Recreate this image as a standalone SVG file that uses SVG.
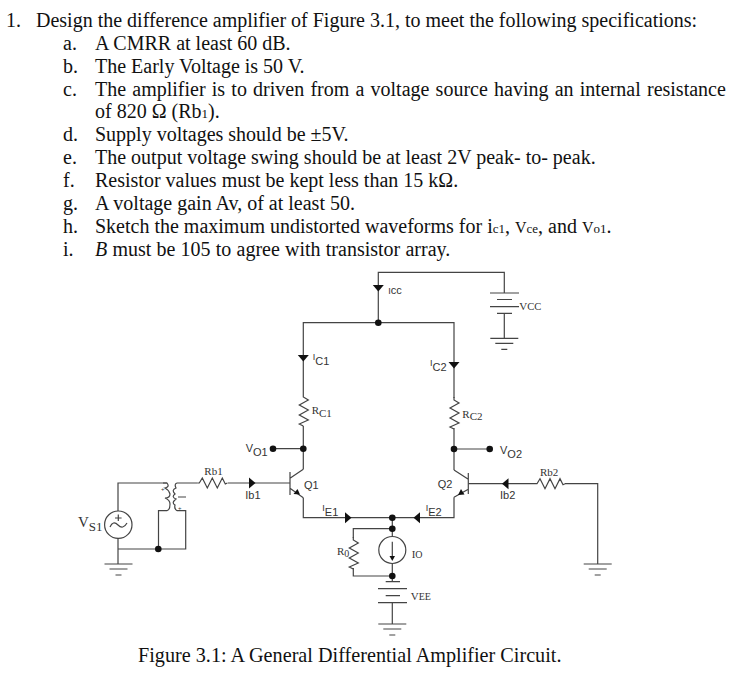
<svg xmlns="http://www.w3.org/2000/svg" width="733" height="682" viewBox="0 0 733 682">
<defs>
<path id="gnd" d="M-14 0H14M-9 5H9M-3 11H3" class="w"/>
<path id="ad" d="M-5.5 -3H5.5L0 3.5Z" class="f"/>
<path id="ar" d="M-3 -5.5V5.5L3.5 0Z" class="f"/>
<path id="al" d="M3 -5.5V5.5L-3.5 0Z" class="f"/>
<path id="rh" d="M0 0H2L5 -5L10 5L15 -5L20 5L25 -5L28 1L30 0" class="w"/>
<path id="rv" d="M0 0V3L5 6L-4 11L5 16L-4 21L5 26L-4 30L0 32" class="w"/>
<circle id="dot" r="3.3" class="f"/>
</defs>
<style>
.t{font-family:"Liberation Serif",serif;font-size:20px;fill:#111}
.s{font-family:"Liberation Sans",sans-serif;font-size:11px;fill:#333}
.r{font-family:"Liberation Serif",serif;font-size:11px;fill:#333}
.m{font-size:13px}
.v{font-size:16px}
.w{fill:none;stroke:#444;stroke-width:1.2}
.f{fill:#111}
</style>
<rect width="733" height="682" fill="#fff"/>
<g id="text">
<text class="t" x="6" y="27">1.</text><text class="t" x="36" y="27">Design the difference amplifier of Figure 3.1, to meet the following specifications:</text>
<text class="t" x="63" y="50">a.</text><text class="t" x="95" y="50">A CMRR at least 60 dB.</text>
<text class="t" x="63" y="73">b.</text><text class="t" x="95" y="73">The Early Voltage is 50 V.</text>
<text class="t" x="63" y="96">c.</text><text class="t" x="95" y="96" word-spacing="1.2">The amplifier is to driven from a voltage source having an internal resistance</text>
<text class="t" x="95" y="118">of 820 Ω (Rb<tspan class="m">1</tspan>).</text>
<text class="t" x="63" y="141">d.</text><text class="t" x="95" y="141">Supply voltages should be ±5V.</text>
<text class="t" x="63" y="164">e.</text><text class="t" x="95" y="164">The output voltage swing should be at least 2V peak- to- peak.</text>
<text class="t" x="63" y="187">f.</text><text class="t" x="95" y="187">Resistor values must be kept less than 15 kΩ.</text>
<text class="t" x="63" y="210">g.</text><text class="t" x="95" y="210">A voltage gain Av, of at least 50.</text>
<text class="t" x="63" y="233">h.</text><text class="t" x="95" y="233">Sketch the maximum undistorted waveforms for i<tspan class="m">c1</tspan>, <tspan class="v">V</tspan><tspan class="m">ce</tspan>, and <tspan class="v">V</tspan><tspan class="m">o1</tspan>.</text>
<text class="t" x="63" y="256">i.</text><text class="t" x="95" y="256" word-spacing="0.2"><tspan font-style="italic">B</tspan> must be 105 to agree with transistor array.</text>
<text class="t" x="138" y="662" style="font-size:20.2px">Figure 3.1: A General Differential Amplifier Circuit.</text>
</g>
<g id="connectors">
<path class="w" d="M504.3 293V272.3H378.3V322.7M303.3 394V322.7H454V398M303.3 426V469.3M273 448.7H303.3M454 428V470M454 449H489.7"/>
<path class="w" d="M303.3 497.7V517.7H454V497.3M392.3 517.7V536.5M392.3 563.5V582M353.3 538V528.7H392.3M353.3 568V576H392.3"/>
<path class="w" d="M118 511V483H167M118 538V564M118 549H185.7V510.7H177M167 510.7H158.5V549M177 483H197.3M227.7 483H290"/>
<path class="w" d="M468.3 483.7H535M565 483.7H597.7V564M504.3 313.3V338.3M392.3 602.7V624"/>
<use href="#ad" x="378.3" y="288"/><use href="#ad" x="303.3" y="358"/><use href="#ad" x="454" y="365"/>
<use href="#ar" x="252" y="483"/><use href="#al" x="505.5" y="483.7"/><use href="#ar" x="348" y="517.7"/><use href="#al" x="417" y="517.7"/>
<use href="#dot" x="378.3" y="322.7"/><use href="#dot" x="392.3" y="517.7"/>
<use href="#gnd" x="597.7" y="564"/>
</g>
<g id="Rb1"><use href="#rh" x="197.3" y="483"/><text class="r" x="204.3" y="475.3">Rb1</text></g>
<g id="Rb2"><use href="#rh" x="535" y="483.7"/><text class="r" x="540" y="476">Rb2</text></g>
<g id="RC1"><use href="#rv" x="303.3" y="394"/><text class="r" x="311.7" y="414">R<tspan dy="2.5">C1</tspan></text></g>
<g id="RC2"><use href="#rv" x="454" y="397"/><text class="r" x="462.3" y="417.5">R<tspan dy="2.5">C2</tspan></text></g>
<g id="R0"><use href="#rv" x="353.3" y="537"/><text class="r" x="337" y="555">R<tspan dy="2" font-size="10">0</tspan></text></g>
<g id="Q1">
<path class="w" d="M290 472V495M290 478.3L303.3 469.3M290 488.3L303.3 497.7"/><path class="f" d="M293.5 494L300 494.5L297.5 489Z"/>
<text class="s" x="304" y="489">Q1</text></g>
<g id="Q2">
<path class="w" d="M468.3 473V494M468.3 479.3L454 470M468.3 489.3L454 497.3"/><path class="f" d="M458 495L464.5 494.5L461 489Z"/>
<text class="s" x="437.7" y="488.3">Q2</text></g>
<g id="VS1">
<circle class="w" cx="118.3" cy="524.7" r="13.7"/>
<path class="w" d="M110 527Q113 520 118 525T127 523M118.3 514.5V521M115 518H121.6"/>
<use href="#gnd" x="118.5" y="564"/>
<text font-family="Liberation Serif, serif" font-size="15" fill="#333" x="78" y="526.5">V<tspan dy="4" font-size="13">S1</tspan></text>
</g>
<g id="transformer">
<path class="w" d="M163 483H167Q170 487 165 488Q169 490 170 494Q170 498 165 498Q170 500 170 504Q170 510 167 510.7"/>
<path class="w" d="M177 483Q174 484 176 488Q171 490 175 494Q171 497 176 499Q171 503 175 505Q174 509 177 510.7M178 497H186"/>
<text class="s" x="161" y="491" style="font-size:6px">+</text><text class="s" x="178" y="510" style="font-size:6px">+</text>
<use href="#dot" x="158.3" y="549"/>
</g>
<g id="VCC">
<path class="w" d="M490 293H519M497 299.5H512M490 306.7H519M497 313.3H512"/>
<use href="#gnd" x="504.3" y="338.3"/>
<text class="r" x="519.3" y="310">V<tspan font-size="10.5">CC</tspan></text>
</g>
<g id="VEE">
<path class="w" d="M385.7 581.7H400M378 588.7H407M385.7 595.7H400M378 602.7H407"/>
<use href="#gnd" x="392.3" y="624"/>
<text class="r" x="410.7" y="600">V<tspan font-size="10">EE</tspan></text>
</g>
<g id="IO">
<circle class="w" cx="392.3" cy="550" r="13.5"/>
<path class="w" d="M392.3 541.7V558"/><path class="f" d="M389.5 556H395L392.3 561Z"/>
<use href="#dot" x="392.3" y="528.7"/><use href="#dot" x="392.3" y="576"/>
<text class="r" x="411.7" y="558">I<tspan font-size="10">O</tspan></text>
</g>
<g id="VO1"><use href="#dot" x="303.3" y="448.7"/><use href="#dot" x="273" y="448.7"/>
<text class="s" x="245.7" y="451.5">V<tspan dy="4.5">O1</tspan></text></g>
<g id="VO2"><use href="#dot" x="454" y="449"/><use href="#dot" x="489.7" y="449"/>
<text class="s" x="500" y="454">V<tspan dy="3.5">O2</tspan></text></g>
<g id="labels">
<text class="s" x="388.3" y="294"><tspan style="font-size:9px">I</tspan>cc</text>
<text class="s" x="312.7" y="360"><tspan style="font-size:9px">I</tspan><tspan dy="5">C1</tspan></text>
<text class="s" x="430" y="366"><tspan style="font-size:9px">I</tspan><tspan dy="5">C2</tspan></text>
<text class="s" x="322.3" y="511"><tspan style="font-size:9px">I</tspan><tspan dy="5">E1</tspan></text>
<text class="s" x="425.7" y="511"><tspan style="font-size:9px">I</tspan><tspan dy="5">E2</tspan></text>
<text class="s" x="245.3" y="499.3">Ib1</text>
<text class="s" x="500" y="499.3">Ib2</text>
</g>
</svg>
